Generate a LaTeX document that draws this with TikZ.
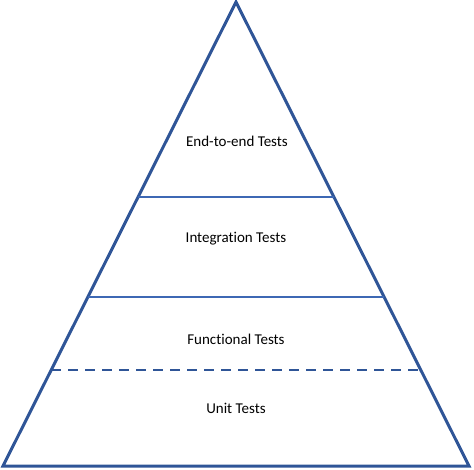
\documentclass[tikz,border=0pt]{standalone}
\usepackage{fontspec}
\setmainfont{Carlito}[Ligatures=NoCommon]
\usepackage{tikz}
\usetikzlibrary{calc}
\definecolor{edgeblue}{HTML}{2F5597}
\definecolor{lineblue}{HTML}{3D68B4}
\tikzset{
  edge/.style = {draw=edgeblue, line width=3pt, line join=miter},
  divider/.style = {draw=lineblue, line width=2.8pt},
  level/.style = {font=\fontsize{15}{18}\selectfont, text=black}
}

\begin{document}
\begin{tikzpicture}[x=1pt, y=1pt]
 \useasboundingbox (0, 0) rectangle (474, 469);
 \coordinate (top) at (236, 467);
 \coordinate (bl) at (3, 3);
 \coordinate (br) at (469, 3);
  \draw[edge] (bl) -- (top) -- (br) -- cycle;
  % dividers, given as fraction of the way from the top
  \foreach \name/\f in {e2e/0.4203, integ/0.6358, func/0.7931}{
  \coordinate (\name l) at ($(top)!\f!(bl)$);
  \coordinate (\name r) at ($(top)!\f!(br)$);
  }
  \draw[divider] (e2el) -- (e2er);
  \draw[divider] (integl) -- (integr);
  \draw[edge, line width=2.8pt, dash pattern=on 10pt off 7pt] (funcl) -- (funcr);
  \node[level] (e2e) at (237, 328) {End-to-end Tests};
  \node[level] (integ) at (236, 230) {Integration Tests};
  \node[level] (func) at (236, 130) {Functional Tests};
  \node[level] (unit) at (236, 61) {Unit Tests};
 \end{tikzpicture}
\end{document}
